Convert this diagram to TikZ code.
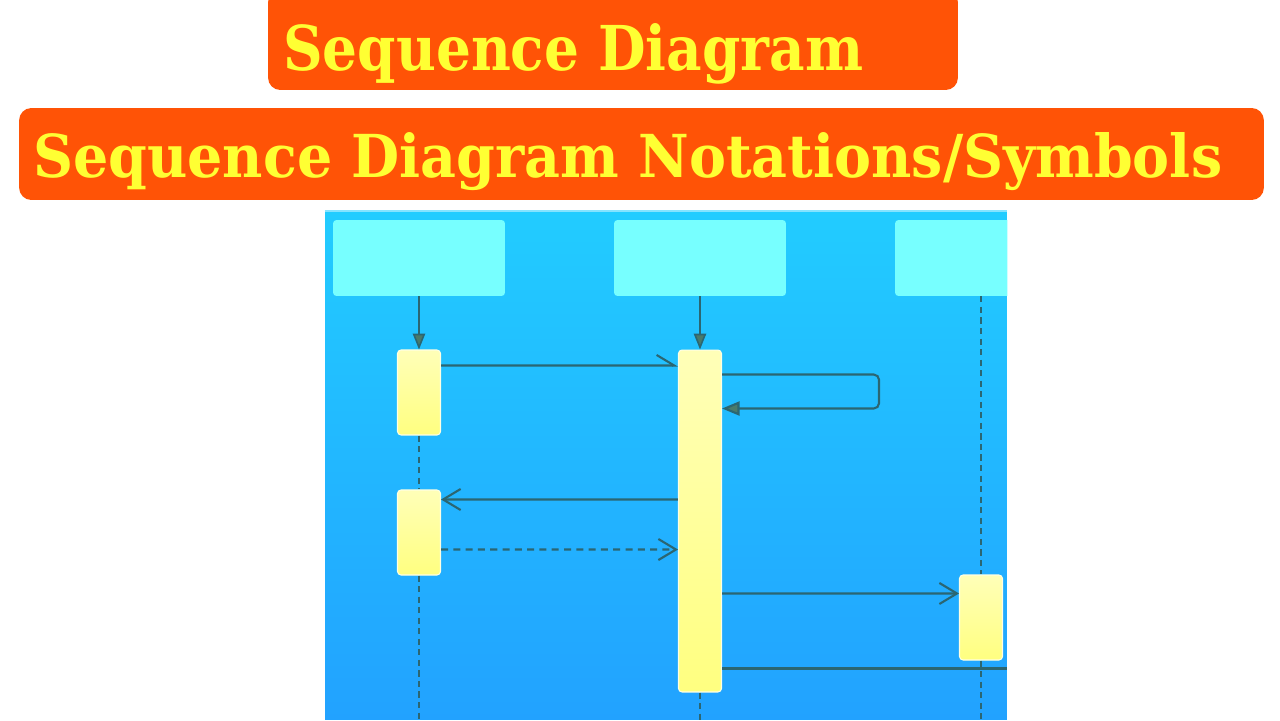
\documentclass[tikz,border=0pt]{standalone}
\usepackage{fontspec}
\usepackage{graphicx}
\newfontfamily\titlefont{DejaVu Serif}
\usetikzlibrary{arrows.meta,calc}
\definecolor{titleorange}{HTML}{FF5306}
\definecolor{titleyellow}{HTML}{FFFF33}
\definecolor{paneltop}{HTML}{22CCFF}
\definecolor{panelbottom}{HTML}{22A2FF}
\definecolor{headcyan}{HTML}{77FFFF}
\definecolor{barlight}{HTML}{FFFFB8}
\definecolor{bardeep}{HTML}{FFFF80}
\definecolor{msgline}{HTML}{2B6672}
\definecolor{tipgreen}{HTML}{4A7A6A}

\begin{document}
\begin{tikzpicture}[x=0.02cm,y=-0.02cm,
  titlebox/.style={fill=titleorange, rounded corners=7pt, inner sep=0},
  titletext/.style={anchor=base west, inner sep=0, text=titleyellow, font=\titlefont\bfseries},
  headbox/.style={fill=headcyan, rounded corners=2pt, minimum width=3.44cm, minimum height=1.52cm, inner sep=0},
  actbar/.style={top color=barlight, bottom color=bardeep, draw=white!60!barlight, line width=0.6pt, rounded corners=2pt, minimum width=0.86cm, inner sep=0},
  msg/.style={draw=msgline, line width=1.2pt, -{Straight Barb[length=10pt,width=12pt]}},
  lifeline/.style={draw=msgline, line width=0.8pt, dash pattern=on 3.5pt off 2.5pt},
  create/.style={draw=msgline, line width=0.9pt, -{Triangle[length=9pt,width=7pt,fill=tipgreen]}}
]

\fill[white] (0,0) rectangle (1280,720);
\useasboundingbox (0,0) rectangle (1280,720);

\node[titlebox, minimum width=13.8cm, minimum height=2cm] (topbar) at (613,40) {};
\node[titlebox, minimum width=24.9cm, minimum height=1.84cm] (subbar) at (641.5,154) {};
\node[titletext] (toptitle) at (283,70) {\resizebox{11.6cm}{0.94cm}{Sequence Diagram}};
\node[titletext] (subtitle) at (33,177) {\resizebox{23.78cm}{0.9cm}{Sequence Diagram Notations/Symbols}};

\node[top color=paneltop, bottom color=panelbottom, minimum width=13.64cm, minimum height=10.18cm, inner sep=0] (panel) at (666,465.5) {};
\draw[white!45!paneltop, line width=1pt] (panel.north west) -- (panel.north east);

\node[headbox] (head1) at (419,258) {};
\node[headbox] (head2) at (700,258) {};
\begin{scope}
\clip (panel.south west) rectangle (panel.north east);
\node[headbox] (head3) at (981,258) {};
\end{scope}

\node[actbar, minimum height=1.7cm] (act1) at (419,392.5) {};
\node[actbar, minimum height=1.7cm] (act2) at (419,532.5) {};
\node[actbar, minimum height=6.84cm] (actB) at (700,521) {};
\node[actbar, minimum height=1.7cm] (actC) at (981,617.5) {};

\draw[create] (head1) -- (act1);
\draw[create] (head2) -- (actB);
\draw[lifeline] (act1) -- (act2);
\draw[lifeline] (act2.south) -- (act2.south |- panel.south);
\draw[lifeline] (actB.south) -- (actB.south |- panel.south);
\draw[lifeline] (head3.south) -- (actC.north);
\draw[lifeline] (actC.south) -- (actC.south |- panel.south);

\draw[msg, -{Straight Barb[left,length=10pt,width=12pt]}] ($(act1.north east)+(0,16)$) -- ($(actB.north west)+(0,16)$);
\draw[draw=msgline, line width=1.2pt, rounded corners=3pt, -{Triangle[length=10pt,width=8pt,fill=tipgreen]}] ($(actB.north east)+(0,25)$) -- ++(157,0) -- ++(0,34) -- ($(actB.north east)+(0,59)$);
\draw[msg] ($(actB.north west)+(0,150)$) -- ($(act2.north east)+(0,10)$);
\draw[msg, dash pattern=on 4pt off 3pt] ($(act2.north east)+(0,60)$) -- ($(actB.north west)+(0,200)$);
\draw[msg] ($(actB.north east)+(0,244)$) -- ($(actC.north west)+(0,19)$);
\draw[draw=msgline, line width=1.2pt] ($(actB.north east)+(0,319)$) -- ($(panel.east |- actB.north)+(0,319)$);

\end{tikzpicture}
\end{document}
